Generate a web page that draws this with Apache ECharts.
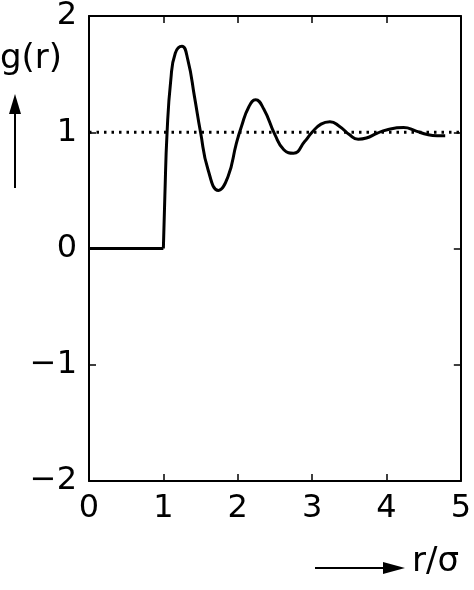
<!DOCTYPE html><html><head><meta charset="utf-8"><script src="https://cdn.jsdelivr.net/npm/echarts@6/dist/echarts.min.js"></script>
<style>html,body{margin:0;padding:0;background:#fff}#c{width:474px;height:590px}</style></head><body><div id="c"></div><script>
const flatR=[0,1], flatG=[0,0];
const curveR=[1,1.02,1.05,1.1,1.16,1.25,1.33,1.42,1.5,1.6,1.74,1.87,1.98,2.05,2.15,2.24,2.35,2.5,2.62,2.75,2.9,3.0,3.12,3.24,3.37,3.5,3.62,3.73,3.87,4.0,4.23,4.4,4.55,4.68,4.79];
const curveG=[0,0.45,1.0,1.45,1.68,1.74,1.62,1.3,1.0,0.68,0.5,0.62,0.9,1.05,1.22,1.28,1.2,0.98,0.85,0.82,0.92,1.0,1.07,1.09,1.05,0.98,0.94,0.95,0.99,1.02,1.04,1.01,0.98,0.97,0.97];
const refR=[0,5], refG=[1,1];
const xTicks=['0','1','2','3','4','5'], yTicks=['−2','−1','0','1','2'];
const z=(a,b)=>a.map((v,i)=>[v,b[i]]);
const F='DejaVu Sans';
const ch=echarts.init(document.getElementById('c'));
const L={color:'#000',width:2};
const T={inside:true,length:7,lineStyle:{color:'#000',width:1.5}};
ch.setOption({animation:false,
grid:{left:89,top:12,width:377,height:469},
xAxis:[{type:'value',min:0,max:5,interval:1,axisLine:{show:true,onZero:false,lineStyle:L},axisTick:T,splitLine:{show:false},axisLabel:{fontFamily:F,fontSize:32,color:'#000',margin:12,formatter:v=>xTicks[Math.round(v)]}},
{type:'value',position:'top',min:0,max:5,interval:1,axisLine:{show:true,onZero:false,lineStyle:L},axisTick:T,axisLabel:{show:false},splitLine:{show:false}}],
yAxis:[{type:'value',min:-2,max:2,interval:1,axisLine:{show:true,onZero:false,lineStyle:L},axisTick:T,splitLine:{show:false},axisLabel:{fontFamily:F,fontSize:32,color:'#000',margin:12,formatter:v=>yTicks[Math.round(v)+2]}},
{type:'value',position:'right',min:-2,max:2,interval:1,axisLine:{show:true,onZero:false,lineStyle:L},axisTick:T,axisLabel:{show:false},splitLine:{show:false}}],
series:[
{type:'line',data:z(refR,refG),showSymbol:false,lineStyle:{color:'#000',width:3,type:[2.5,5]}},
{type:'line',data:z(flatR,flatG),showSymbol:false,lineStyle:{color:'#000',width:3}},
{type:'line',data:z(curveR,curveG),showSymbol:false,smooth:true,lineStyle:{color:'#000',width:3}},
{type:'line',xAxisIndex:1,yAxisIndex:1,data:[],showSymbol:false}],
graphic:[
{type:'text',left:0,top:42,style:{text:'g(r)',font:'34px DejaVu Sans',fill:'#000'}},
{type:'line',shape:{x1:15,y1:188,x2:15,y2:112},style:{stroke:'#000',lineWidth:2}},
{type:'polygon',shape:{points:[[9,114],[21,114],[15,94]]},style:{fill:'#000'}},
{type:'line',shape:{x1:315,y1:568,x2:385,y2:568},style:{stroke:'#000',lineWidth:2}},
{type:'polygon',shape:{points:[[383,562],[383,574],[405,568]]},style:{fill:'#000'}},
{type:'text',left:412,top:545,style:{text:'r/σ',font:'34px DejaVu Sans',fill:'#000'}}
]});
</script></body></html>
